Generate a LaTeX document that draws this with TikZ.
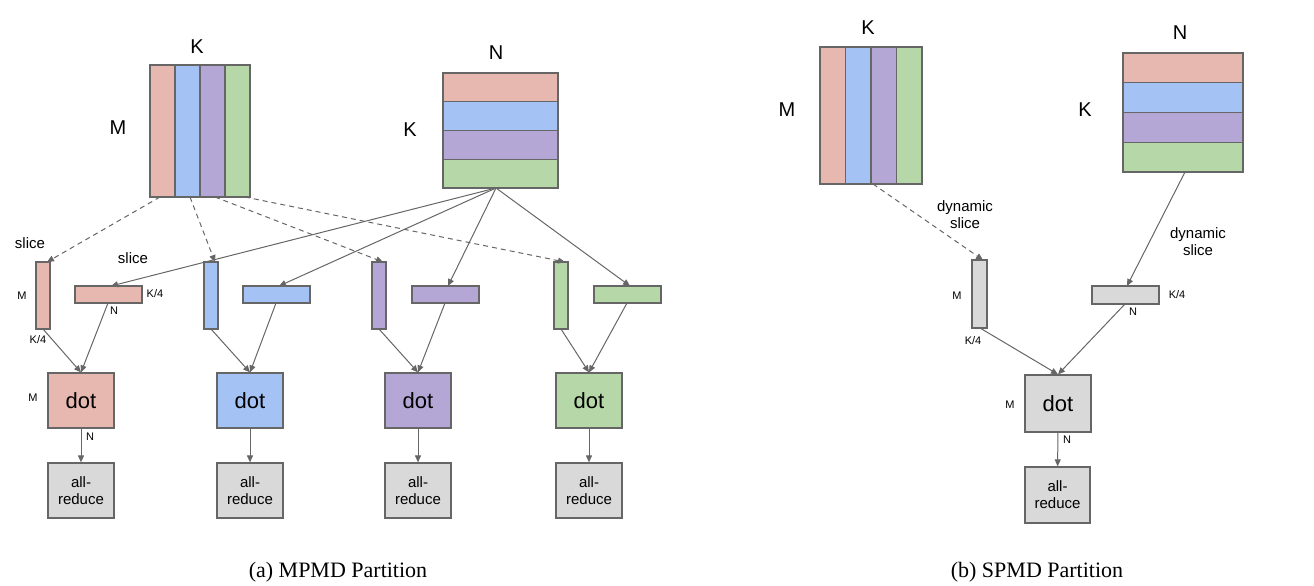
\documentclass[tikz,border=0pt]{standalone}
\usepackage{fontspec}
\setmainfont{Liberation Serif}
\newfontfamily\sans{Liberation Sans}
\usetikzlibrary{arrows.meta}
\definecolor{cr}{HTML}{E6B8AF}
\definecolor{cb}{HTML}{A4C2F4}
\definecolor{cp}{HTML}{B4A7D6}
\definecolor{cg}{HTML}{B6D7A8}
\definecolor{cy}{HTML}{D9D9D9}
\definecolor{ln}{HTML}{666666}
\begin{document}
\begin{tikzpicture}[x=1pt,y=-1pt,
 bx/.style={draw=ln,line width=1.2pt},
 ar/.style={draw=ln,line width=1pt,-{Triangle[length=7pt,width=6pt]}},
 da/.style={ar,dashed,dash pattern=on 5pt off 4pt},
 big/.style={font=\sans\fontsize{20}{22}\selectfont},
 sm/.style={font=\sans\fontsize{11}{12}\selectfont,inner sep=0},
 lab/.style={font=\sans\fontsize{15}{17}\selectfont,align=center,inner sep=0},
 capt/.style={font=\fontsize{22}{24}\selectfont}]
\useasboundingbox (0,0) rectangle (1314,586);
% left A
\foreach \c [count=\i from 0] in {cr,cb,cp,cg}
  \draw[bx,fill=\c] (150+25*\i,65) rectangle (175+25*\i,197);
\node[big] at (197,47) {K};
\node[big] at (118,128) {M};
% left B
\foreach \c [count=\i from 0] in {cr,cb,cp,cg}
  \draw[bx,fill=\c] (443,73+28.75*\i) rectangle (558,101.75+28.75*\i);
\node[big] at (496,53) {N};
\node[big] at (410,130) {K};
\coordinate (B) at (496,188);
% groups
\foreach \c/\tx/\fx/\dx/\sx/\n in {cr/36/75/48/160/r,cb/204/243/217/190/b,cp/372/412/385/215/p,cg/554/594/556/245/g}{
  \draw[bx,fill=\c] (\tx,262) rectangle ++(14,67);
  \coordinate (t\n) at (\tx+7,329);
  \coordinate (tt\n) at (\tx+11,262);
  \draw[bx,fill=\c] (\fx,286) rectangle ++(67,17);
  \coordinate (f\n) at (\fx+33,303);
  \coordinate (ft\n) at (\fx+36,286);
  \node[bx,fill=\c,minimum width=66pt,minimum height=55pt,inner sep=0,font=\sans\fontsize{22}{24}\selectfont] (d\n) at (\dx+33,400.5) {dot};
  \node[bx,fill=cy,minimum width=66pt,minimum height=55pt,inner sep=0,font=\sans\fontsize{15}{17}\selectfont,align=center] (a\n) at (\dx+33,490.5) {all-\\reduce};
  \draw[ar] (t\n) -- (d\n.north);
  \draw[ar] (f\n) -- (d\n.north);
  \draw[ar] (d\n) -- (a\n);
  \draw[da] (\sx,197) -- (tt\n);
  \draw[ar] (B) -- (ft\n);
}
\node[lab] at (30,243) {slice};
\node[lab] at (133,258) {slice};
\node[sm] at (22,296) {M};
\node[sm] at (155,294) {K/4};
\node[sm] at (114,311) {N};
\node[sm] at (38,340) {K/4};
\node[sm] at (33,398) {M};
\node[sm] at (90,437) {N};
% right
\foreach \c [count=\i from 0] in {cr,cb,cp,cg}
  \draw[bx,fill=\c] (820+25.5*\i,47) rectangle (845.5+25.5*\i,184);
\node[big] at (868,28) {K};
\node[big] at (787,110) {M};
\foreach \c [count=\i from 0] in {cr,cb,cp,cg}
  \draw[bx,fill=\c] (1123,53+29.75*\i) rectangle (1243,82.75+29.75*\i);
\node[big] at (1180,33) {N};
\node[big] at (1085,110) {K};
\draw[bx,fill=cy] (972,260) rectangle (987,328);
\draw[bx,fill=cy] (1092,286) rectangle (1159,304);
\coordinate (rt) at (980,328);
\coordinate (rf) at (1125,304);
\node[bx,fill=cy,minimum width=66pt,minimum height=57pt,inner sep=0,font=\sans\fontsize{22}{24}\selectfont] (rd) at (1058,403.5) {dot};
\node[bx,fill=cy,minimum width=65pt,minimum height=56pt,inner sep=0,font=\sans\fontsize{15}{17}\selectfont,align=center] (ra) at (1057.5,495) {all-\\reduce};
\draw[da] (873,184) -- (983,260);
\draw[ar] (1185,172) -- (1127,286);
\draw[ar] (rt) -- (rd.north);
\draw[ar] (rf) -- (rd.north);
\draw[ar] (rd) -- (ra);
\node[lab] at (965,215) {dynamic\\slice};
\node[lab] at (1198,242) {dynamic\\slice};
\node[sm] at (957,296) {M};
\node[sm] at (1177,295) {K/4};
\node[sm] at (1133,312) {N};
\node[sm] at (973,341) {K/4};
\node[sm] at (1010,405) {M};
\node[sm] at (1067,440) {N};
\node[capt] at (338,572) {(a) MPMD Partition};
\node[capt] at (1037,572) {(b) SPMD Partition};
\end{tikzpicture}
\end{document}
